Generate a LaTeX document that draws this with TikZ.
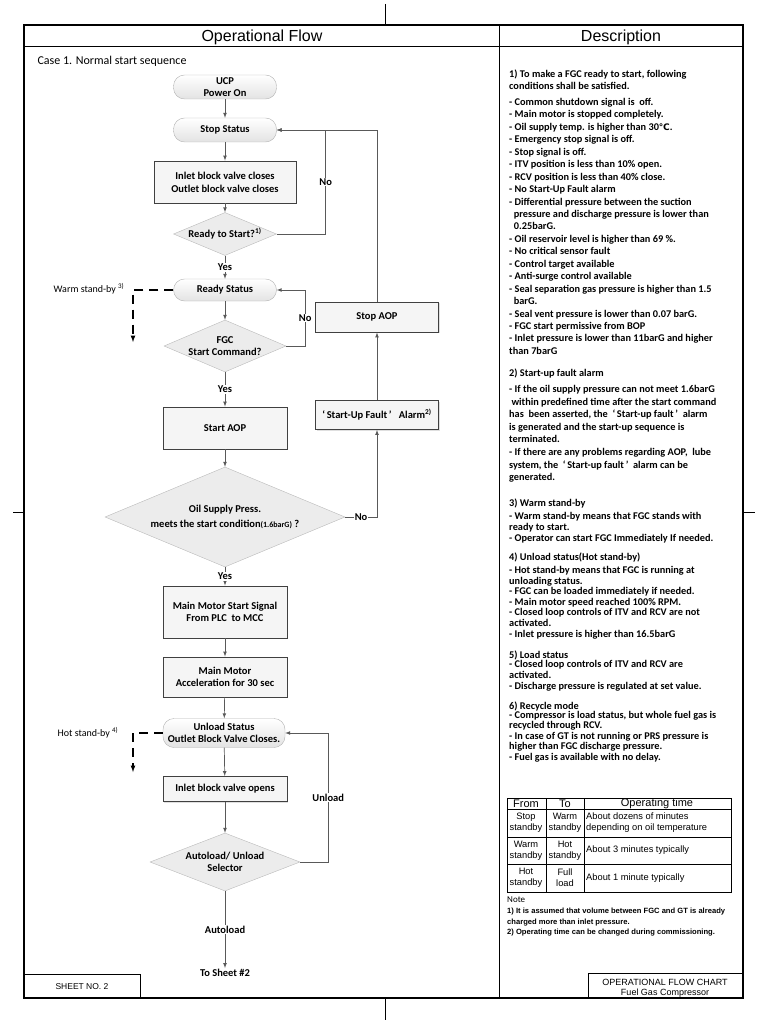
\documentclass[tikz,border=0pt]{standalone}
\usepackage{fontspec}
\setmainfont{Carlito}
\newfontfamily\headfont{Liberation Sans}
\newfontfamily\symfont{DejaVu Sans}
\usetikzlibrary{shapes.geometric,shadows}

\begin{document}
\begin{tikzpicture}[x=1pt,y=-1pt,
  term/.style={draw=gray!60, rounded corners=11pt, top color=white, bottom color=gray!22,
    minimum width=103, minimum height=24, inner sep=1pt, align=center,
    font=\fontsize{10.5}{12}\selectfont\bfseries},
  proc/.style={draw=black!75, line width=0.9pt, fill=gray!8,
    drop shadow={opacity=0.25, shadow xshift=1pt, shadow yshift=-1pt},
    minimum width=124, inner sep=1pt, align=center,
    font=\fontsize{10.5}{13}\selectfont\bfseries},
  decide/.style={diamond, draw=gray!55, fill=gray!15, inner sep=-3pt, aspect=2.4, align=center,
    font=\fontsize{10.5}{12}\selectfont\bfseries},
  flow/.style={draw=black!65, line width=0.7pt, -latex},
  lbl/.style={fill=white, inner sep=1pt, font=\fontsize{10.5}{12}\selectfont\bfseries},
  standby/.style={draw=black, line width=1.2pt, dash pattern=on 9pt off 6pt, -latex},
  side/.style={font=\fontsize{10}{12}\selectfont},
  desc/.style={anchor=north west, inner sep=0pt, align=left},
  head/.style={font=\headfont\fontsize{16}{18}\selectfont},
  cell/.style={font=\headfont\fontsize{9.3}{11}\selectfont, align=center, inner sep=0pt},
]
  \useasboundingbox (0,0) rectangle (768,1024);
  % sheet frame
  \draw[line width=1.2pt] (24,25) rectangle (743,998);
  \draw[line width=1pt] (24,47) -- (743,47);
  \draw[line width=1pt] (499,25) -- (499,998);
  \draw (385,4) -- (385,25);
  \draw (385,998) -- (385,1020);
  \draw (13,512) -- (24,512);
  \draw (743,512) -- (755,512);
  \node[head] (flowhead) at (262,37) {Operational Flow};
  \node[head] (deschead) at (621,37) {Description};
  \node[anchor=west, font=\fontsize{12}{14}\selectfont] (case) at (34,61) {Case 1. Normal start sequence};

  % flow chart
  \node[term] (ucp) at (225,87) {UCP\\Power On};
  \node[term] (stop) at (225,130) {Stop Status};
  \node[proc, minimum width=142, minimum height=42] (closes) at (225,182) {Inlet block valve closes\\Outlet block valve closes};
  \node[decide, minimum width=103, minimum height=43] (ready) at (225,234) {Ready to Start?\textsuperscript{1)}};
  \node[term, minimum height=22] (readyst) at (225,290) {Ready Status};
  \node[decide, minimum width=122, minimum height=52] (fgc) at (225,346) {FGC\\Start Command?};
  \node[proc, minimum height=42] (startaop) at (225,428) {Start AOP};
  \node[decide, minimum width=240, minimum height=100, font=\fontsize{10.5}{14.5}\selectfont\bfseries] (oil) at (225,517)
    {Oil Supply Press.\\meets the start condition{\fontsize{8}{10}\selectfont(1.6barG)} ?};
  \node[proc, minimum height=52, font=\fontsize{10.5}{12.5}\selectfont\bfseries] (mmstart) at (225,612) {Main Motor Start Signal\\From PLC\ \ to MCC};
  \node[proc, minimum height=40, font=\fontsize{10.5}{12.5}\selectfont\bfseries] (mmaccel) at (225,677) {Main Motor\\Acceleration for 30 sec};
  \node[term, minimum width=122, minimum height=29] (unload) at (224,733) {Unload Status\\Outlet Block Valve Closes.};
  \node[proc, minimum height=25] (inletopen) at (225,789) {Inlet block valve opens};
  \node[decide, minimum width=150, minimum height=58] (autold) at (225,862) {Autoload/ Unload\\Selector};
  \node[lbl] (tosheet) at (225,973) {To Sheet \#2};
  \node[proc, minimum width=123, minimum height=30] (stopaop) at (377,317) {Stop AOP};
  \node[proc, minimum width=123, minimum height=29, inner sep=0pt] (fault) at (377,415) {`\,Start-Up Fault\,'\ \ \ Alarm\textsuperscript{2)}};
  \node[side] (warm) at (89,289) {Warm stand-by \textsuperscript{3)}};
  \node[side] (hot) at (88,733) {Hot stand-by \textsuperscript{4)}};
  \coordinate (warmend) at (133,342);
  \coordinate (hotend) at (133,772);

  \draw[flow] (ucp) -- (stop);
  \draw[flow] (stop) -- (closes);
  \draw[flow] (closes) -- (ready);
  \draw[flow] (ready) -- node[lbl]{Yes} (readyst);
  \draw[flow] (ready.east) -- ++(49,0) |- node[lbl, pos=0.25]{No} (stop.east);
  \draw[flow] (readyst) -- (fgc);
  \draw[flow] (fgc.east) -- ++(19,0) |- node[lbl, pos=0.25]{No} (readyst.east);
  \draw[flow] (fgc) -- node[lbl]{Yes} (startaop);
  \draw[flow] (startaop) -- (oil);
  \draw[flow] (oil.east) -| node[lbl, pos=0.25]{No} (fault.south);
  \draw[flow] (fault) -- (stopaop);
  \draw[flow] (stopaop.north) |- (stop.east);
  \draw[flow] (oil) -- node[lbl]{Yes} (mmstart);
  \draw[flow] (mmstart) -- (mmaccel);
  \draw[flow] (mmaccel) -- (unload);
  \draw[flow] (unload) -- (inletopen);
  \draw[flow] (inletopen) -- (autold);
  \draw[flow] (autold.east) -- ++(28,0) |- node[lbl, pos=0.25]{Unload} (unload.east);
  \draw[flow] (autold) -- node[lbl]{Autoload} (tosheet);
  \draw[standby] (readyst.west) -| (warmend);
  \draw[standby] (unload.west) -| (hotend);

  % description
  \node[desc, font=\fontsize{10.3}{12}\selectfont\bfseries] (d1) at (509,70)
    {1) To make a FGC ready to start, following\\conditions shall be satisfied.};
  \node[desc, font=\fontsize{10.3}{12.45}\selectfont\bfseries] (d1list) at (509,98)
    {- Common shutdown signal is\ \ off.\\
     - Main motor is stopped completely.\\
     - Oil supply temp. is higher than 30{\symfont\fontsize{9}{10}\selectfont ℃}.\\
     - Emergency stop signal is off.\\
     - Stop signal is off.\\
     - ITV position is less than 10\% open.\\
     - RCV position is less than 40\% close.\\
     - No Start-Up Fault alarm\\
     - Differential pressure between the suction\\
     \ \ pressure and discharge pressure is lower than\\
     \ \ 0.25barG.\\
     - Oil reservoir level is higher than 69 \%.\\
     - No critical sensor fault\\
     - Control target available\\
     - Anti-surge control available\\
     - Seal separation gas pressure is higher than 1.5\\
     \ \ barG.\\
     - Seal vent pressure is lower than 0.07 barG.\\
     - FGC start permissive from BOP\\
     - Inlet pressure is lower than 11barG and higher\\
     than 7barG};
  \node[desc, font=\fontsize{10.3}{12}\selectfont\bfseries] (d2) at (509,369) {2) Start-up fault alarm};
  \node[desc, font=\fontsize{10.3}{12.6}\selectfont\bfseries] (d2list) at (509,385)
    {- If the oil supply pressure can not meet 1.6barG\\
     \ within predefined time after the start command\\
     has\ \ been asserted, the\ \ `\,Start-up fault\,'\ \ alarm\\
     is generated and the start-up sequence is\\
     terminated.\\
     - If there are any problems regarding AOP,\ \ lube\\
     system, the\ \ `\,Start-up fault\,'\ \ alarm can be\\
     generated.};
  \node[desc, font=\fontsize{10.3}{12}\selectfont\bfseries] (d3) at (509,499) {3) Warm stand-by};
  \node[desc, font=\fontsize{10.3}{11}\selectfont\bfseries] (d3list) at (509,512)
    {- Warm stand-by means that FGC stands with\\
     ready to start.\\
     - Operator can start FGC Immediately If needed.};
  \node[desc, font=\fontsize{10.3}{12}\selectfont\bfseries] (d4) at (509,553) {4) Unload status(Hot stand-by)};
  \node[desc, font=\fontsize{10.3}{10.6}\selectfont\bfseries] (d4list) at (509,566)
    {- Hot stand-by means that FGC is running at\\
     unloading status.\\
     - FGC can be loaded immediately if needed.\\
     - Main motor speed reached 100\% RPM.\\
     - Closed loop controls of ITV and RCV are not\\
     activated.\\
     - Inlet pressure is higher than 16.5barG};
  \node[desc, font=\fontsize{10.3}{12}\selectfont\bfseries] (d5) at (509,651) {5) Load status};
  \node[desc, font=\fontsize{10.3}{11}\selectfont\bfseries] (d5list) at (509,660)
    {- Closed loop controls of ITV and RCV are\\
     activated.\\
     - Discharge pressure is regulated at set value.};
  \node[desc, font=\fontsize{10.3}{12}\selectfont\bfseries] (d6) at (509,702) {6) Recycle mode};
  \node[desc, font=\fontsize{10.3}{10.5}\selectfont\bfseries] (d6list) at (509,711)
    {- Compressor is load status, but whole fuel gas is\\
     recycled through RCV.\\
     - In case of GT is not running or PRS pressure is\\
     higher than FGC discharge pressure.\\
     - Fuel gas is available with no delay.};

  % operating time table
  \draw[line width=0.8pt] (507,798) rectangle (731,892);
  \draw[line width=0.8pt] (507,809) -- (731,809);
  \draw[line width=0.8pt] (507,837) -- (731,837);
  \draw[line width=0.8pt] (507,864) -- (731,864);
  \draw[line width=0.8pt] (546,798) -- (546,892);
  \draw[line width=0.8pt] (584,798) -- (584,892);
  \node[cell, font=\headfont\fontsize{11}{12}\selectfont] (tfrom) at (526,803.5) {From};
  \node[cell, font=\headfont\fontsize{11}{12}\selectfont] (tto) at (565,803.5) {To};
  \node[cell, font=\headfont\fontsize{11}{12}\selectfont] (ttime) at (657,803.5) {Operating time};
  \node[cell] (r1a) at (526,823) {Stop\\standby};
  \node[cell] (r1b) at (565,823) {Warm\\standby};
  \node[cell, anchor=west, align=left] (r1c) at (586,823) {About dozens of minutes\\depending on oil temperature};
  \node[cell] (r2a) at (526,850.5) {Warm\\standby};
  \node[cell] (r2b) at (565,850.5) {Hot\\standby};
  \node[cell, anchor=west] (r2c) at (586,850.5) {About 3\ minutes typically};
  \node[cell] (r3a) at (526,878) {Hot\\standby};
  \node[cell] (r3b) at (565,878) {Full\\load};
  \node[cell, anchor=west] (r3c) at (586,878) {About 1\ minute typically};

  % note
  \node[desc, font=\fontsize{9}{10}\selectfont] (note) at (507,897) {Note};
  \node[desc, font=\headfont\fontsize{7.6}{10.3}\selectfont\bfseries] (notes) at (507,908)
    {1) It is assumed that volume between FGC and GT is already\\
     charged more than inlet pressure.\\
     2) Operating time can be changed during commissioning.};

  % title blocks
  \draw[line width=1pt] (24,974) rectangle (140,998);
  \node[cell, font=\headfont\fontsize{8.5}{10}\selectfont] (sheet) at (82,987) {SHEET NO. 2};
  \draw[line width=1pt] (588,973) rectangle (743,998);
  \node[cell, font=\headfont\fontsize{9}{10}\selectfont] (chart) at (665,982) {OPERATIONAL FLOW CHART};
  \node[cell, font=\headfont\fontsize{9}{10}\selectfont] (fgcname) at (665,993) {Fuel Gas Compressor};
\end{tikzpicture}
\end{document}
